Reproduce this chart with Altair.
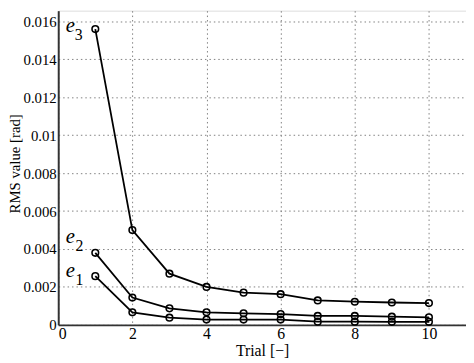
import altair as alt
import pandas as pd

trials = [1, 2, 3, 4, 5, 6, 7, 8, 9, 10]
e1 = [0.00257, 0.00066, 0.00038, 0.00028, 0.00028, 0.00028, 0.00017, 0.00017, 0.00016, 0.00016]
e2 = [0.0038, 0.00144, 0.00087, 0.00066, 0.00061, 0.00057, 0.00047, 0.00047, 0.00043, 0.0004]
e3 = [0.0156, 0.0050, 0.0027, 0.0020, 0.0017, 0.00162, 0.00129, 0.00122, 0.00118, 0.00115]
series_names = ["e1", "e2", "e3"]

# label positions (data coords)
label_letter = ["e", "e", "e"]
label_sub = ["1", "2", "3"]
label_x = [0.33, 0.33, 0.33]
label_y = [0.00286, 0.00462, 0.01574]
sub_x = [0.57, 0.57, 0.55]
sub_y = [0.00234, 0.00416, 0.01527]

x_ticks = [0, 2, 4, 6, 8, 10]
y_ticks = [0, 0.002, 0.004, 0.006, 0.008, 0.01, 0.012, 0.014, 0.016]

rows = []
for name, vals in zip(series_names, [e1, e2, e3]):
    for t, v in zip(trials, vals):
        rows.append({"series": name, "trial": t, "value": v})
df = pd.DataFrame(rows)

letters_df = pd.DataFrame({"txt": label_letter, "trial": label_x, "value": label_y})
subs_df = pd.DataFrame({"txt": label_sub, "trial": sub_x, "value": sub_y})

FONT = "Liberation Serif"

xs = alt.Scale(domain=[0, 11], nice=False, zero=False)
ys = alt.Scale(domain=[0, 0.01657], nice=False)

x_axis = alt.Axis(title="Trial [\u2212]", values=x_ticks, format="d",
                  grid=True, gridDash=[1.5, 3], gridColor="#808080", gridWidth=1,
                  domainColor="#333333", domainWidth=2, ticks=False,
                  labelFont=FONT, labelFontSize=16, labelColor="black", labelPadding=1,
                  labelOverlap=False,
                  titleFont=FONT, titleFontSize=16, titleFontWeight="normal",
                  titleColor="black", titlePadding=1)
y_axis = alt.Axis(title="RMS value [rad]", values=y_ticks, tickCount=9,
                  labelExpr="datum.value == 0 ? '0' : format(datum.value, '.3~f')",
                  grid=True, gridDash=[1.5, 3], gridColor="#808080", gridWidth=1,
                  domainColor="#333333", domainWidth=2, ticks=False,
                  labelFont=FONT, labelFontSize=15, labelColor="black", labelPadding=2,
                  labelOverlap=False,
                  titleFont=FONT, titleFontSize=15, titleFontWeight="normal",
                  titleColor="black", titleX=-44, titleY=155, titleAngle=-90,
                  titleAlign="center", titleBaseline="middle")

x_enc = alt.X("trial:Q", scale=xs, axis=x_axis)
y_enc = alt.Y("value:Q", scale=ys, axis=y_axis)

lines = alt.Chart(df).mark_line(color="black", strokeWidth=1.8).encode(
    x=x_enc, y=y_enc, detail="series:N")

points = alt.Chart(df).mark_point(shape="circle", filled=False, color="black",
                                  size=45, strokeWidth=1.6, opacity=1).encode(
    x=x_enc, y=y_enc, detail="series:N")

letters = alt.Chart(letters_df).mark_text(font=FONT, fontSize=21, fontStyle="italic",
                                          color="black").encode(
    x=x_enc, y=y_enc, text="txt:N")

subs = alt.Chart(subs_df).mark_text(font=FONT, fontSize=16, color="black").encode(
    x=x_enc, y=y_enc, text="txt:N")

chart = alt.layer(lines, points, letters, subs).properties(
    width=414, height=319,
    autosize=alt.AutoSizeParams(type="none"),
    padding={"left": 51, "top": 0, "right": 0, "bottom": 36},
).configure_view(stroke=None).configure(background="white")

chart.save("out.html", embed_options={"renderer": "svg", "actions": False})
